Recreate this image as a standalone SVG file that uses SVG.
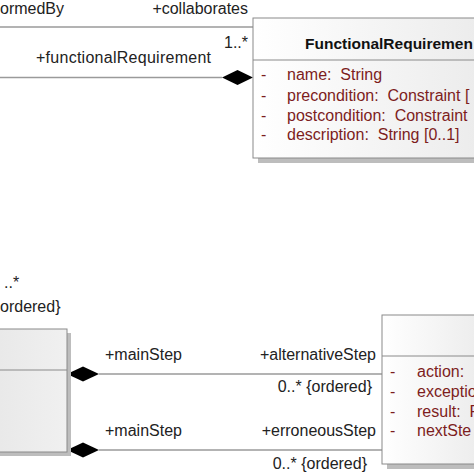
<svg xmlns="http://www.w3.org/2000/svg" width="474" height="474" viewBox="0 0 474 474">
<defs>
<linearGradient id="g1" x1="0" y1="0" x2="1" y2="0">
<stop offset="0" stop-color="#ffffff"/>
<stop offset="1" stop-color="#ececec"/>
</linearGradient>
<linearGradient id="g2" x1="0" y1="0" x2="1" y2="0">
<stop offset="0" stop-color="#e8e8e8"/>
<stop offset="1" stop-color="#f0f0f0"/>
</linearGradient>
</defs>
<style>
.lbl{font-family:"Liberation Sans",Arial,sans-serif;font-size:16px;fill:#222}
.attr{font-family:"Liberation Sans",Arial,sans-serif;font-size:16px;fill:#7d1d1d;white-space:pre}
.title{font-family:"Liberation Sans",Arial,sans-serif;font-size:15.5px;font-weight:bold;fill:#111}
.box{stroke:#8a8a8a;stroke-width:1}
.shadow{fill:#bdbdbd}
.sep{stroke:#8a8a8a;stroke-width:1}
.conn{stroke:#9a9a9a;stroke-width:1.5;fill:none}
.dia{fill:#000}
</style>
<rect width="474" height="474" fill="#ffffff"/>

<g id="connectors">
<line class="conn" x1="0" y1="27" x2="253" y2="27"/>
<line class="conn" x1="0" y1="77.5" x2="222" y2="77.5"/>
<path class="dia" d="M222 77.5 L237.5 70 L253 77.5 L237.5 85 Z"/>
<line class="conn" x1="99" y1="374" x2="382" y2="374"/>
<path class="dia" d="M67 374 L83 366.5 L99 374 L83 381.5 Z"/>
<line class="conn" x1="99" y1="450" x2="382" y2="450"/>
<path class="dia" d="M67 450 L83 442.5 L99 450 L83 457.5 Z"/>
<text class="lbl" x="0" y="14">ormedBy</text>
<text class="lbl" x="248" y="14" text-anchor="end">+collaborates</text>
<text class="lbl" x="248" y="48" text-anchor="end">1..*</text>
<text class="lbl" x="36" y="63" textLength="175">+functionalRequirement</text>
<text class="lbl" x="4" y="288">..*</text>
<text class="lbl" x="0" y="312">ordered}</text>
<text class="lbl" x="105" y="360">+mainStep</text>
<text class="lbl" x="105" y="436">+mainStep</text>
<text class="lbl" x="376" y="360" text-anchor="end">+alternativeStep</text>
<text class="lbl" x="372" y="392" text-anchor="end">0..* {ordered}</text>
<text class="lbl" x="376" y="436" text-anchor="end">+erroneousStep</text>
<text class="lbl" x="367" y="469" text-anchor="end">0..* {ordered}</text>
</g>

<g id="FunctionalRequirement">
<rect class="shadow" x="258" y="23" width="220" height="140"/>
<rect class="box" x="253" y="18" width="225" height="140" fill="url(#g1)"/>
<line class="sep" x1="253" y1="60" x2="478" y2="60"/>
<text class="title" x="305" y="49">FunctionalRequiremen</text>
<text class="attr" x="261" y="80">-</text>
<text class="attr" x="287" y="80">name:  String</text>
<text class="attr" x="261" y="101">-</text>
<text class="attr" x="287" y="101">precondition:  Constraint [</text>
<text class="attr" x="261" y="121">-</text>
<text class="attr" x="287" y="121">postcondition:  Constraint</text>
<text class="attr" x="261" y="140">-</text>
<text class="attr" x="287" y="140">description:  String [0..1]</text>
</g>

<g id="UseCase">
<rect class="shadow" x="-5" y="333" width="76" height="123"/>
<rect class="box" x="-10" y="329" width="77" height="123" fill="url(#g2)"/>
<line class="sep" x1="-10" y1="370" x2="67" y2="370"/>
</g>

<g id="Step">
<rect class="shadow" x="387" y="320" width="100" height="149"/>
<rect class="box" x="382" y="315" width="100" height="149" fill="url(#g1)"/>
<line class="sep" x1="382" y1="356" x2="482" y2="356"/>
<text class="attr" x="390" y="377">-</text>
<text class="attr" x="417" y="377">action:</text>
<text class="attr" x="390" y="397">-</text>
<text class="attr" x="417" y="397">exceptio</text>
<text class="attr" x="390" y="417">-</text>
<text class="attr" x="417" y="417">result:  R</text>
<text class="attr" x="390" y="436">-</text>
<text class="attr" x="417" y="436">nextSte</text>
</g>
</svg>
